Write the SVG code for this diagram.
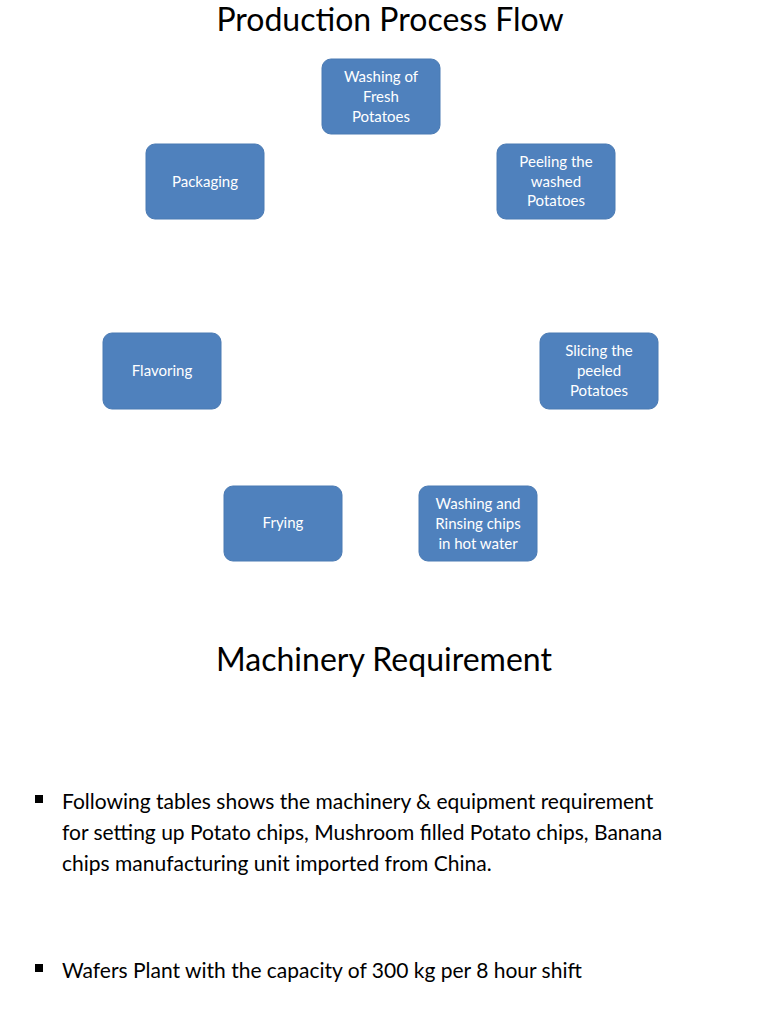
<svg xmlns="http://www.w3.org/2000/svg" width="768" height="1024" viewBox="0 0 768 1024">
<style>
.n{fill:#4f81bd;stroke:#4a7ab3;stroke-width:1}
.t{font-family:Lato,"Liberation Sans",sans-serif;font-size:15px;fill:#fff;text-anchor:middle}
.h{font-family:Lato,"Liberation Sans",sans-serif;font-size:32px;fill:#000;text-anchor:middle}
.b{font-family:Lato,"Liberation Sans",sans-serif;font-size:21px;fill:#000}
</style>
<rect width="768" height="1024" fill="#fff"/>
<text class="h" x="390" y="31">Production Process Flow</text>
<g id="wash"><rect class="n" x="322" y="59" width="118" height="75" rx="9"/><text class="t" x="381" y="82">Washing of</text><text class="t" x="381" y="102">Fresh</text><text class="t" x="381" y="122">Potatoes</text></g>
<g id="peel"><rect class="n" x="497" y="144" width="118" height="75" rx="9"/><text class="t" x="556" y="167">Peeling the</text><text class="t" x="556" y="187">washed</text><text class="t" x="556" y="206">Potatoes</text></g>
<g id="pack"><rect class="n" x="146" y="144" width="118" height="75" rx="9"/><text class="t" x="205" y="187">Packaging</text></g>
<g id="flav"><rect class="n" x="103" y="333" width="118" height="76" rx="9"/><text class="t" x="162" y="376">Flavoring</text></g>
<g id="slice"><rect class="n" x="540" y="333" width="118" height="76" rx="9"/><text class="t" x="599" y="356">Slicing the</text><text class="t" x="599" y="376">peeled</text><text class="t" x="599" y="396">Potatoes</text></g>
<g id="fry"><rect class="n" x="224" y="486" width="118" height="75" rx="9"/><text class="t" x="283" y="528">Frying</text></g>
<g id="rinse"><rect class="n" x="419" y="486" width="118" height="75" rx="9"/><text class="t" x="478" y="509">Washing and</text><text class="t" x="478" y="529">Rinsing  chips</text><text class="t" x="478" y="549">in hot water</text></g>
<g id="connectors"></g>
<text class="h" x="384" y="671">Machinery Requirement</text>
<g class="b">
<rect x="35" y="795" width="8" height="8" fill="#000"/>
<text class="b" x="62" y="809">Following tables shows the machinery &amp; equipment requirement</text>
<text class="b" x="62" y="840">for setting up Potato chips, Mushroom filled Potato chips, Banana</text>
<text class="b" x="62" y="871">chips manufacturing unit imported from China.</text>
<rect x="35" y="964" width="8" height="8" fill="#000"/>
<text class="b" x="62" y="978">Wafers Plant with the capacity of 300 kg per 8 hour shift</text>
</g>
</svg>
